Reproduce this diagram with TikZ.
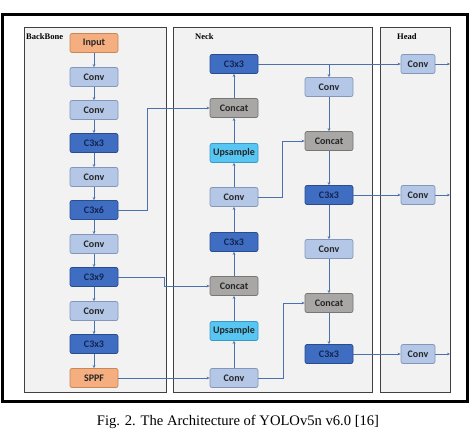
\documentclass[tikz,border=0pt]{standalone}
\usepackage{fontspec}
\setmainfont{Liberation Serif}
\newfontfamily\boxfont{Carlito}
\usetikzlibrary{arrows.meta}

\definecolor{convblue}{HTML}{B4C7E7}
\definecolor{convedge}{HTML}{8497B8}
\definecolor{c3blue}{HTML}{3F6DC2}
\definecolor{c3edge}{HTML}{2B4C8C}
\definecolor{c3text}{HTML}{14254F}
\definecolor{catgray}{HTML}{A9A6A6}
\definecolor{catedge}{HTML}{787575}
\definecolor{upcyan}{HTML}{58C6F2}
\definecolor{upedge}{HTML}{3A98C8}
\definecolor{ioorange}{HTML}{F4AE80}
\definecolor{ioedge}{HTML}{C98656}
\definecolor{linkblue}{HTML}{4A70AE}
\definecolor{panelgray}{HTML}{F2F2F2}

\tikzset{
	blk/.style={rounded corners=2pt, minimum width=48pt, minimum height=19pt, inner sep=0pt, line width=0.7pt, text=black!85, font=\boxfont\bfseries\fontsize{10}{12}\selectfont},
	convbox/.style={blk, fill=convblue, draw=convedge},
	c3box/.style={blk, fill=c3blue, draw=c3edge, text=c3text},
	catbox/.style={blk, fill=catgray, draw=catedge},
	upbox/.style={blk, fill=upcyan, draw=upedge},
	iobox/.style={blk, fill=ioorange, draw=ioedge},
	headbox/.style={convbox, minimum width=34pt},
	link/.style={draw=linkblue, line width=0.8pt, -{Stealth[length=3pt,width=2.6pt]}},
	panel/.style={fill=panelgray, draw=black!75, line width=0.8pt},
	lbl/.style={font=\bfseries\fontsize{8.5}{10}\selectfont, anchor=base west, inner sep=0pt},
}

\begin{document}
\begin{tikzpicture}[x=1pt, y=-1pt]
	\useasboundingbox (0,0) rectangle (474,429);
	% frame and panels
	\draw[black, line width=3pt, fill=white] (2,14) rectangle (467,401);
	\draw[panel] (24,27) rectangle (166,392);
	\draw[panel] (173,27) rectangle (372,392);
	\draw[panel] (380,27) rectangle (450,392);
	\node[lbl] (bbLbl) at (26,39) {BackBone};
	\node[lbl] (neckLbl) at (195,39) {Neck};
	\node[lbl] (headLbl) at (397,39) {Head};

	% backbone
	\node[iobox] (bIn) at (94,43) {Input};
	\node[convbox] (bConv1) at (94,77) {Conv};
	\node[convbox] (bConv2) at (94,110) {Conv};
	\node[c3box] (bC3a) at (94,143) {C3x3};
	\node[convbox] (bConv3) at (94,177) {Conv};
	\node[c3box] (bC36) at (94,210) {C3x6};
	\node[convbox] (bConv4) at (94,244) {Conv};
	\node[c3box] (bC39) at (94,277) {C3x9};
	\node[convbox] (bConv5) at (94,311) {Conv};
	\node[c3box] (bC3b) at (94,344) {C3x3};
	\node[iobox] (bSPPF) at (94,378) {SPPF};

	% neck
	\node[c3box] (nC3a) at (234,64) {C3x3};
	\node[catbox] (nCat1) at (234,108) {Concat};
	\node[upbox] (nUp1) at (234,153) {Upsample};
	\node[convbox] (nConv1) at (234,197) {Conv};
	\node[c3box] (nC3b) at (234,242) {C3x3};
	\node[catbox] (nCat2) at (234,286) {Concat};
	\node[upbox] (nUp2) at (234,331) {Upsample};
	\node[convbox] (nConv2) at (234,378) {Conv};
	\node[convbox] (rConv1) at (329,87) {Conv};
	\node[catbox] (rCat1) at (329,141) {Concat};
	\node[c3box] (rC3a) at (329,195) {C3x3};
	\node[convbox] (rConv2) at (329,249) {Conv};
	\node[catbox] (rCat2) at (329,303) {Concat};
	\node[c3box] (rC3b) at (329,354) {C3x3};

	% head
	\node[headbox] (hConv1) at (418,64) {Conv};
	\node[headbox] (hConv2) at (418,195) {Conv};
	\node[headbox] (hConv3) at (418,354) {Conv};
	\coordinate (hOut1) at (450,64);
	\coordinate (hOut2) at (450,195);
	\coordinate (hOut3) at (450,354);

	% links
	\foreach \a/\b in {bIn/bConv1, bConv1/bConv2, bConv2/bC3a, bC3a/bConv3, bConv3/bC36, bC36/bConv4, bConv4/bC39, bC39/bConv5, bConv5/bC3b, bC3b/bSPPF,
		nConv2/nUp2, nUp2/nCat2, nCat2/nC3b, nC3b/nConv1, nConv1/nUp1, nUp1/nCat1, nCat1/nC3a,
		rConv1/rCat1, rCat1/rC3a, rC3a/rConv2, rConv2/rCat2, rCat2/rC3b}
		\draw[link] (\a) -- (\b);
	\draw[link] (bC36.east) -- ++(29,0) |- (nCat1.west);
	\draw[link] (bC39.east) -- ++(46,0) |- (nCat2.west);
	\draw[link] (bSPPF.east) -- (nConv2.west);
	\draw[link] (nConv1.east) -- ++(24,0) |- (rCat1.west);
	\draw[link] (nConv2.east) -- ++(25,0) |- (rCat2.west);
	\draw[link] (nC3a.east) -- (hConv1.west);
	\draw[link] (rConv1.north |- nC3a.east) -- (rConv1.north);
	\draw[link] (rC3a.east) -- (hConv2.west);
	\draw[link] (rC3b.east) -- (hConv3.west);
	\draw[link] (hConv1.east) -- (hOut1);
	\draw[link] (hConv2.east) -- (hOut2);
	\draw[link] (hConv3.east) -- (hOut3);

	% caption
	\node[font=\fontsize{14.6}{16}\selectfont, anchor=base, inner sep=0pt] (cap) at (238,425) {Fig. 2. The Architecture of YOLOv5n v6.0 [16]};
\end{tikzpicture}
\end{document}
